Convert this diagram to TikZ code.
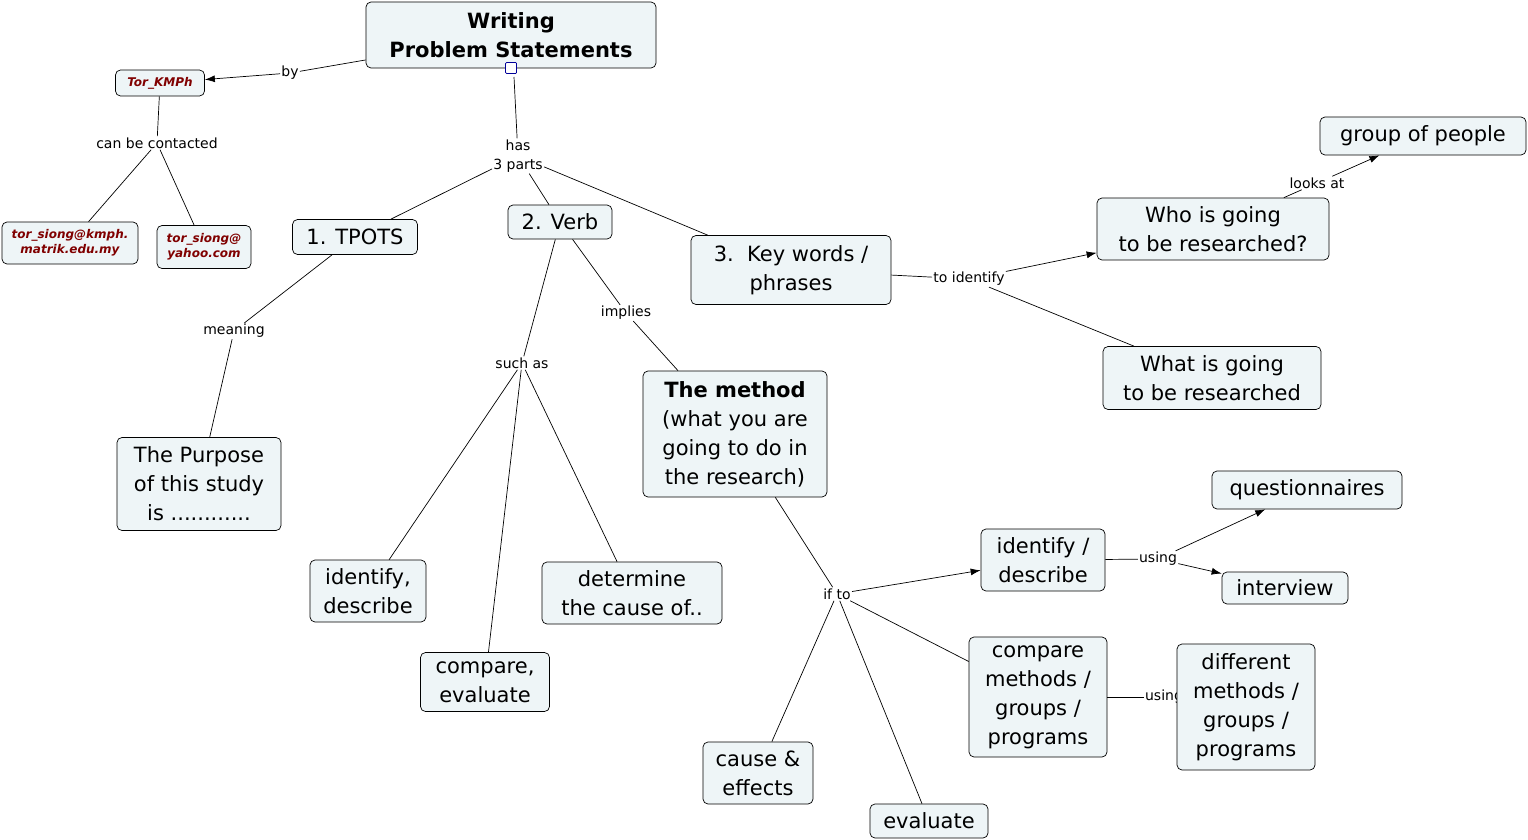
\documentclass[tikz,border=0pt]{standalone}
\usepackage{fontspec}
\setmainfont{DejaVu Sans}
\usetikzlibrary{arrows.meta}
\definecolor{boxfill}{RGB}{238,245,247}
\definecolor{maroon}{RGB}{128,0,0}
\begin{document}
\begin{tikzpicture}[x=1pt,y=-1pt,
 box/.style={draw,rounded corners=5pt,fill=boxfill,align=center,inner sep=0pt,font=\fontsize{21}{29}\selectfont},
 small/.style={box,font=\fontsize{12}{15}\selectfont\bfseries\itshape,text=maroon},
 lab/.style={fill=white,inner sep=1pt,align=center,font=\fontsize{14}{19}\selectfont},
 arr/.style={-{Latex[length=10pt,width=7pt]}},
 every path/.style={line width=0.7pt}]
\useasboundingbox (0,0) rectangle (1528,840);
% labels
\node[lab] (by) at (290,73) {by};
\node[lab] (cbc) at (157,143) {can be contacted};
\node[lab] (has) at (518,156) {has\\3 parts};
\node[lab] (mean) at (234,331) {meaning};
\node[lab] (such) at (522,363) {such as};
\node[lab] (impl) at (626,313) {implies};
\node[lab] (toid) at (969,279) {to identify};
\node[lab] (look) at (1317,183) {looks at};
\node[lab] (ifto) at (837,594) {if to};
\node[lab] (us1) at (1158,559) {using};
\node[lab] (us2) at (1164,697) {using};
% boxes
\node[box,minimum width=290,minimum height=66,font=\fontsize{21}{29}\selectfont\bfseries] (title) at (511,35) {Writing\\Problem Statements};
\node[small,minimum width=89,minimum height=26] (tor) at (160,83) {Tor\_KMPh};
\node[small,minimum width=136,minimum height=42] (e1) at (70,243) {tor\_siong@kmph.\\matrik.edu.my};
\node[small,minimum width=94,minimum height=43] (e2) at (204,247) {tor\_siong@\\yahoo.com};
\node[box,minimum width=125,minimum height=35] (tpots) at (355,237) {1. TPOTS};
\node[box,minimum width=104,minimum height=34] (verb) at (560,222) {2. Verb};
\node[box,minimum width=200,minimum height=69] (key) at (791,270) {3.\ \ Key words /\\phrases};
\node[box,minimum width=232,minimum height=62] (who) at (1213,229) {Who is going\\to be researched?};
\node[box,minimum width=206,minimum height=38] (grp) at (1423,136) {group of people};
\node[box,minimum width=218,minimum height=63] (what) at (1212,378) {What is going\\to be researched};
\node[box,minimum width=164,minimum height=93] (purp) at (199,484) {The Purpose\\of this study\\is ............};
\node[box,minimum width=184,minimum height=126] (meth) at (735,434) {\textbf{The method}\\(what you are\\going to do in\\the research)};
\node[box,minimum width=116,minimum height=62] (idd) at (368,591) {identify,\\describe};
\node[box,minimum width=180,minimum height=62] (det) at (632,593) {determine\\the cause of..};
\node[box,minimum width=129,minimum height=59] (ce) at (485,682) {compare,\\evaluate};
\node[box,minimum width=124,minimum height=62] (idd2) at (1043,560) {identify /\\describe};
\node[box,minimum width=190,minimum height=38] (quest) at (1307,490) {questionnaires};
\node[box,minimum width=126,minimum height=32] (intv) at (1285,588) {interview};
\node[box,minimum width=138,minimum height=120] (cm) at (1038,697) {compare\\methods /\\groups /\\programs};
\node[box,minimum width=110,minimum height=62] (cause) at (758,773) {cause \&\\effects};
\node[box,minimum width=118,minimum height=34] (eval) at (929,821) {evaluate};
% icon
\node[draw=blue!60!black,fill=white,minimum size=11pt,inner sep=0pt,rounded corners=1pt] (icon) at (511,68) {};
\coordinate (iconb) at (514,77);
% connectors
\draw (title) -- (by); \draw[arr] (by) -- (tor);
\draw (tor) -- (cbc); \draw (cbc) -- (e1); \draw (cbc) -- (e2);
\draw (iconb) -- (has);
\draw (has) -- (tpots); \draw (has) -- (verb); \draw (has) -- (key);
\draw (tpots) -- (mean); \draw (mean) -- (purp);
\draw (verb) -- (such); \draw (such) -- (idd); \draw (such) -- (det); \draw (such) -- (ce);
\draw (verb) -- (impl); \draw (impl) -- (meth);
\draw (key) -- (toid); \draw[arr] (toid) -- (who); \draw (toid) -- (what);
\draw (who) -- (look); \draw[arr] (look) -- (grp);
\draw (meth) -- (ifto); \draw[arr] (ifto) -- (idd2); \draw (ifto) -- (cm);
\draw (ifto) -- (cause); \draw (ifto) -- (eval);
\draw (idd2) -- (us1); \draw[arr] (us1) -- (quest); \draw[arr] (us1) -- (intv);
\draw (cm) -- (us2);
\node[box,minimum width=138,minimum height=126] (diff) at (1246,707) {different\\methods /\\groups /\\programs};
\end{tikzpicture}
\end{document}
